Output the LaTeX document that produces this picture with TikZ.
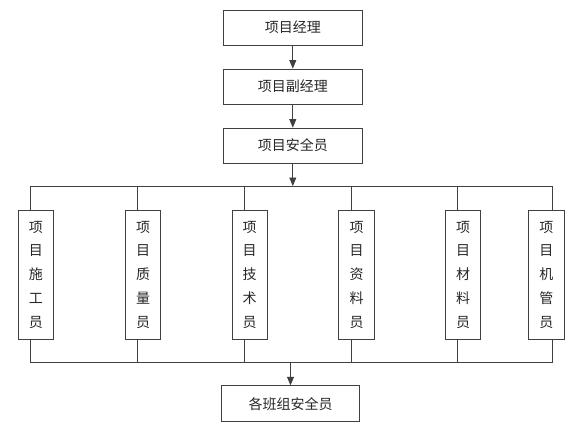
\documentclass[tikz,border=0pt]{standalone}
\usepackage{fontspec}
\newfontfamily\cjk{Noto Sans CJK SC}
\usetikzlibrary{arrows.meta}
\begin{document}
\begin{tikzpicture}[x=1pt,y=-1pt,
  box/.style={draw=black!75, line width=0.8pt, minimum width=139pt, minimum height=35pt, inner sep=0pt,
    font=\cjk\fontsize{14}{16}\selectfont, text=black!85},
  vbox/.style={draw=black!75, line width=0.8pt, minimum width=35.3pt, minimum height=129.3pt, inner sep=0pt,
    align=center, font=\cjk\fontsize{14}{23.75}\selectfont, text=black!85},
  conn/.style={draw=black!75, line width=0.8pt},
  arr/.style={conn, -{Triangle[length=8.5pt,width=7pt]}}]
\useasboundingbox (0,0) rectangle (576,432);
% top chain
\node[box] (pm)  at (292.8,27.5)  {项目经理};
\node[box] (dpm) at (292.8,86.5)  {项目副经理};
\node[box] (sm)  at (292.8,145.5) {项目安全员};
\node[box, minimum width=138.3pt, minimum height=36pt] (team) at (290.5,403.7) {各班组安全员};
% vertical boxes
\node[vbox] (v1) at (35.8,274.7)  {项\\目\\施\\工\\员};
\node[vbox] (v2) at (143,274.7)   {项\\目\\质\\量\\员};
\node[vbox] (v3) at (249.7,274.7) {项\\目\\技\\术\\员};
\node[vbox] (v4) at (356.5,274.7) {项\\目\\资\\料\\员};
\node[vbox] (v5) at (463,274.7)   {项\\目\\材\\料\\员};
\node[vbox] (v6) at (546.3,274.7) {项\\目\\机\\管\\员};
% bus coordinates
\coordinate (t1) at (30.7,186);  \coordinate (b1) at (30.7,362.5);
\coordinate (t2) at (137,186);   \coordinate (b2) at (137,362.5);
\coordinate (t3) at (244,186);   \coordinate (b3) at (244,362.5);
\coordinate (t4) at (351,186);   \coordinate (b4) at (351,362.5);
\coordinate (t5) at (457.7,186); \coordinate (b5) at (457.7,362.5);
\coordinate (t6) at (552.7,186); \coordinate (b6) at (552.7,362.5);
% arrows
\draw[arr] (pm) -- (dpm);
\draw[arr] (dpm) -- (sm);
\draw[arr] (sm.south) -- (sm.south |- t1);
\draw[arr] (team.north |- b1) -- (team.north);
% buses
\draw[conn] (t1) -- (t6);
\draw[conn] (b1) -- (b6);
\foreach \i in {1,...,6}{
  \draw[conn] (t\i) -- (t\i |- v\i.north);
  \draw[conn] (t\i |- v\i.south) -- (b\i);
}
\end{tikzpicture}
\end{document}
